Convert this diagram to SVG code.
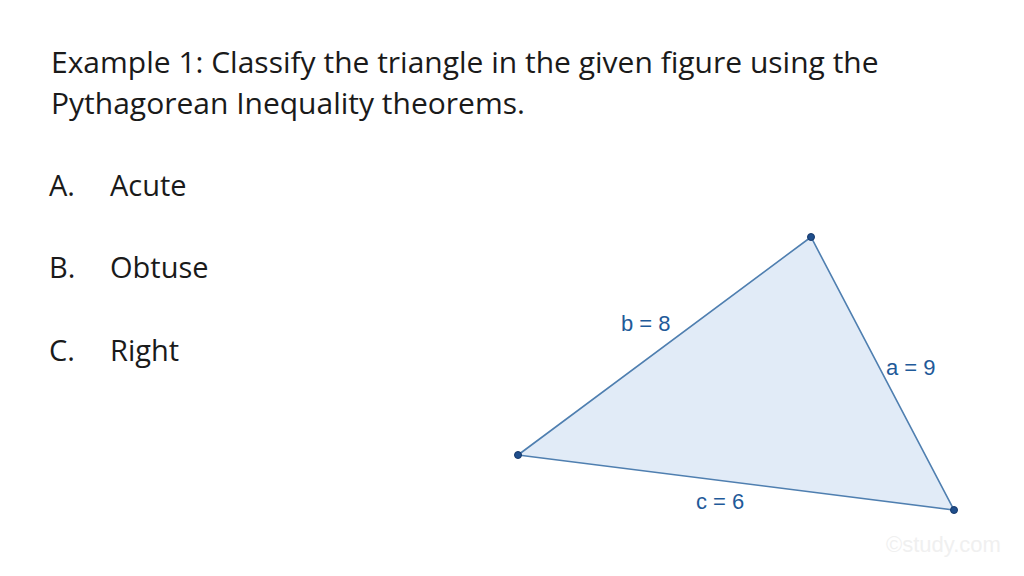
<svg xmlns="http://www.w3.org/2000/svg" width="1024" height="576" viewBox="0 0 1024 576">
<style>
.t{font-family:"Open Sans","DejaVu Sans",sans-serif;font-size:29px;fill:#1a1a1a}
.h{font-size:30px}
.l{font-family:"Liberation Sans",Arial,sans-serif;font-size:22px;fill:#1f5a99}
.pt{fill:#1f4e8c;stroke:#16386a;stroke-width:1}
</style>
<rect width="1024" height="576" fill="#ffffff"/>
<g id="title">
<text class="t h" x="51" y="73">Example 1: Classify the triangle in the given figure using the</text>
<text class="t h" x="51" y="114">Pythagorean Inequality theorems.</text>
</g>
<g id="options">
<text class="t" x="49" y="196">A.</text><text class="t" x="110" y="196">Acute</text>
<text class="t" x="49" y="278">B.</text><text class="t" x="110" y="278">Obtuse</text>
<text class="t" x="49" y="361">C.</text><text class="t" x="110" y="361">Right</text>
</g>
<g id="triangle">
<polygon points="518,455 811,237 954,510" fill="#e1ebf7" stroke="#4f7fb0" stroke-width="1.6"/>
</g>
<g id="vertices">
<circle class="pt" cx="518" cy="455" r="3.5"/>
<circle class="pt" cx="811" cy="237" r="3.5"/>
<circle class="pt" cx="954" cy="510" r="3.5"/>
</g>
<g id="labels">
<text class="l" x="621" y="331">b = 8</text>
<text class="l" x="886" y="375">a = 9</text>
<text class="l" x="696" y="509">c = 6</text>
</g>
<text x="886" y="552" font-family="Liberation Sans,Arial,sans-serif" font-size="22" fill="#f0f0f0">©study.com</text>
</svg>
